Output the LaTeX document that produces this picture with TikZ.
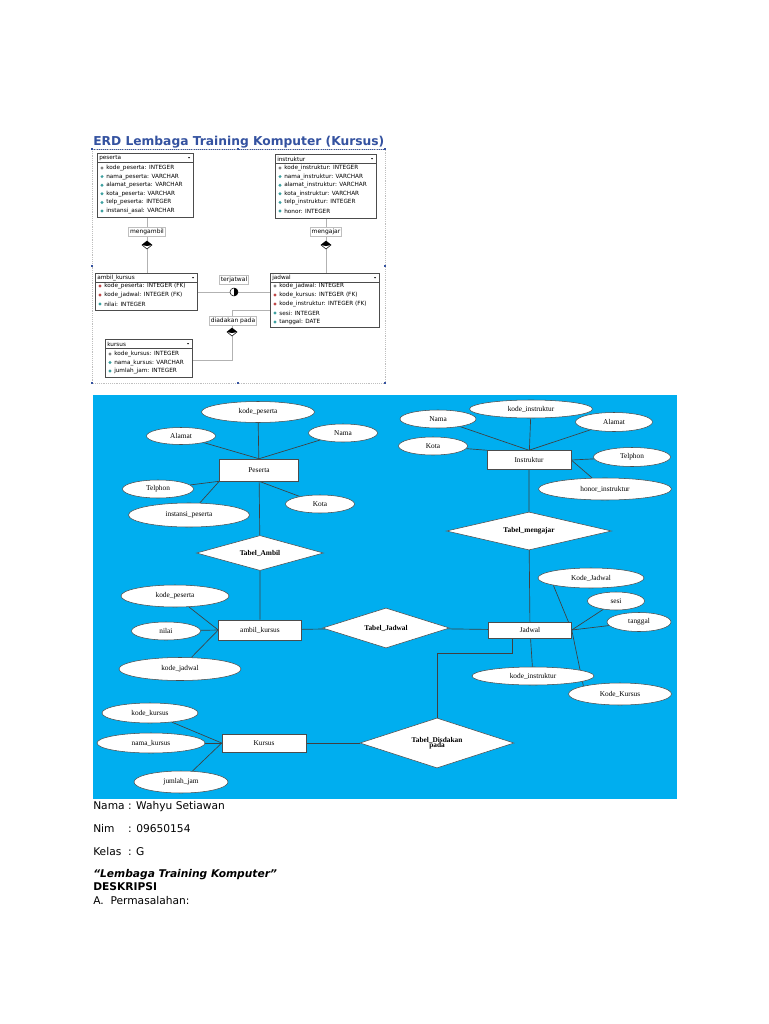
\documentclass[tikz,border=0pt]{standalone}
\usepackage{fontspec}
\setmainfont{DejaVu Sans}
\newfontfamily\erdf{Liberation Serif}
\usetikzlibrary{shapes.geometric}
\pgfdeclarelayer{bg}
\pgfsetlayers{bg,main}
\definecolor{sky}{RGB}{0,174,239}
\definecolor{ttl}{RGB}{52,82,160}
\definecolor{fkc}{RGB}{190,70,70}
\definecolor{atc}{RGB}{60,160,160}
\tikzset{
  sz/.style 2 args={minimum width={#1*0.75pt}, minimum height={#2*0.75pt}},
  attr/.style={ellipse, draw=black!70, fill=white, inner sep=0pt, font=\erdf\fontsize{5.5}{6}\selectfont},
  ent/.style={rectangle, draw=black!70, fill=white, inner sep=0pt, font=\erdf\fontsize{5.5}{6}\selectfont},
  rel/.style={diamond, draw=black!70, fill=white, inner sep=0pt, aspect=3, font=\erdf\bfseries\fontsize{5.5}{6}\selectfont, align=center},
  ln/.style={draw=black!75, line width=0.5pt},
  tbox/.style={rectangle, draw=gray!60!black, fill=white, inner sep=0pt, anchor=north west},
  rowt/.style={anchor=west, inner sep=0pt, font=\fontsize{4.3}{5}\selectfont},
  lbl/.style={rectangle, draw=gray!50, fill=white, inner sep=1pt, font=\fontsize{4.5}{5}\selectfont},
  txt/.style={anchor=base west, inner sep=0pt, font=\fontsize{8}{10}\selectfont},
  tline/.style={draw=gray!60, line width=0.6pt}
}
\newcommand\mytable[6]{%
  \node[tbox, minimum width={(#4-#2)*0.75pt}, minimum height={(#5-#3)*0.75pt}] (#1) at (#2,#3) {};
  \draw[gray!60!black, line width=0.3pt] (#2,#3+9) -- (#4,#3+9);
  \node[rowt] at (#2+2,#3+5) {#6};
  \fill[black] (#4-5,#3+4) -- (#4-3,#3+4) -- (#4-4,#3+5.5) -- cycle;
}
\newcommand\myrow[4]{%
  \fill[#3] (#1+5,#2) circle (1.6);
  \node[rowt] at (#1+9,#2) {#4};
}
\begin{document}
\begin{tikzpicture}[x=0.75pt,y=-0.75pt]
\useasboundingbox (0,0) rectangle (768,1024);
\begin{pgfonlayer}{bg}
\fill[white] (0,0) rectangle (768,1024);
\fill[sky] (93,395) rectangle (677,799);
\end{pgfonlayer}

% title
\node[anchor=base west, inner sep=0pt, text=ttl, font=\bfseries\fontsize{9.2}{11}\selectfont] (title) at (93,145) {\underline{ERD Lembaga Training Komputer (Kursus)}};

% top frame
\draw[gray!50, densely dotted] (92,149) rectangle (385,383);
\foreach \px/\py in {92/149,238/149,385/149,92/266,385/266,92/383,238/383,385/383}
  \fill[ttl] (\px-1,\py-1) rectangle (\px+1,\py+1);

% top connectors
\coordinate (pb) at (147,217);
\coordinate (at) at (147,273);
\draw[tline] (pb) -- (at);
\coordinate (ib) at (326,218);
\coordinate (jt) at (326,273);
\draw[tline] (ib) -- (jt);
\coordinate (ar) at (197,292);
\coordinate (jl) at (270,292);
\draw[tline] (ar) -- (jl);
\coordinate (jl2) at (270,310);
\coordinate (kr) at (192,360);
\draw[tline] (jl2) -- (232,310) -- (232,360) -- (kr);

% tables
\mytable{peseta}{97}{153}{193}{217}{peserta}
\myrow{97}{168}{gray}{kode\_peserta: INTEGER}
\myrow{97}{176.6}{atc}{nama\_peserta: VARCHAR}
\myrow{97}{185.2}{atc}{alamat\_peserta: VARCHAR}
\myrow{97}{193.8}{atc}{kota\_peserta: VARCHAR}
\myrow{97}{202.4}{atc}{telp\_peserta: INTEGER}
\myrow{97}{211}{atc}{instansi\_asal: VARCHAR}

\mytable{instruktur}{275}{154}{376}{218}{instruktur}
\myrow{275}{168}{gray}{kode\_instruktur: INTEGER}
\myrow{275}{176.6}{atc}{nama\_instruktur: VARCHAR}
\myrow{275}{185.2}{atc}{alamat\_instruktur: VARCHAR}
\myrow{275}{193.8}{atc}{kota\_instruktur: VARCHAR}
\myrow{275}{202.4}{atc}{telp\_instruktur: INTEGER}
\myrow{275}{211}{atc}{honor: INTEGER}

\mytable{ambilt}{95}{273}{197}{310}{ambil\_kursus}
\myrow{95}{286}{fkc}{kode\_peserta: INTEGER (FK)}
\myrow{95}{295}{fkc}{kode\_jadwal: INTEGER (FK)}
\myrow{95}{304}{atc}{nilai: INTEGER}

\mytable{jadwalt}{270}{273}{379}{327}{jadwal}
\myrow{270}{286}{gray}{kode\_jadwal: INTEGER}
\myrow{270}{295}{fkc}{kode\_kursus: INTEGER (FK)}
\myrow{270}{304}{fkc}{kode\_instruktur: INTEGER (FK)}
\myrow{270}{313}{atc}{sesi: INTEGER}
\myrow{270}{322}{atc}{tanggal: DATE}

\mytable{kursust}{105}{339}{192}{377}{kursus}
\myrow{105}{354}{gray}{kode\_kursus: INTEGER}
\myrow{105}{362.5}{atc}{nama\_kursus: VARCHAR}
\myrow{105}{371}{atc}{jumlah\_jam: INTEGER}

\node[lbl] (l1) at (147,232) {mengambil};
\node[lbl] (l2) at (326,232) {mengajar};
\node[lbl] (l3) at (234,280) {terjatwal};
\node[lbl] (l4) at (233,321) {diadakan pada};

\foreach \cx/\cy in {147/245,326/245,232/332}{
  \fill[white] (\cx-5,\cy) -- (\cx,\cy-4) -- (\cx+5,\cy) -- (\cx,\cy+4) -- cycle;
  \fill[black] (\cx-5,\cy) -- (\cx,\cy-4) -- (\cx+5,\cy) -- (\cx,\cy+1) -- cycle;
  \draw[black, line width=0.4pt] (\cx-5,\cy) -- (\cx,\cy-4) -- (\cx+5,\cy) -- (\cx,\cy+4) -- cycle;
}
\fill[white] (234,292) circle (4);
\begin{scope}
  \clip (234,286) rectangle (240,298);
  \fill[black] (234,292) circle (4);
\end{scope}
\draw[black, line width=0.4pt] (234,292) circle (4);

% entities
\node[ent, sz={79}{22}] (peserta) at (259,470) {Peserta};
\node[ent, sz={83}{20}] (ambil) at (260,630) {ambil\_kursus};
\node[ent, sz={83}{16}] (jadwal) at (530,630) {Jadwal};
\node[ent, sz={84}{19}] (instr) at (529,460) {Instruktur};
\node[ent, sz={84}{18}] (kursus) at (264,743) {Kursus};

% relations
\node[rel, sz={127}{35}] (tambil) at (260,553) {Tabel\_Ambil};
\node[rel, sz={127}{40}] (tjadwal) at (386,628) {Tabel\_Jadwal};
\node[rel, sz={165}{38}] (tmengajar) at (529,531) {Tabel\_mengajar};
\node[rel, sz={154}{50}] (tdp) at (437,743) {Tabel\_Disdakan\\[-2pt]pada};

% attributes
\node[attr, sz={113}{21}] (kp) at (258,412) {kode\_peserta};
\node[attr, sz={69}{17}] (alamat) at (181,436) {Alamat};
\node[attr, sz={69}{18}] (nama) at (343,433) {Nama};
\node[attr, sz={71}{18}] (telp) at (158,489) {Telphon};
\node[attr, sz={121}{24}] (inst) at (189,515) {instansi\_peserta};
\node[attr, sz={69}{18}] (kota) at (320,504) {Kota};

\node[attr, sz={123}{18}] (ki) at (531,409) {kode\_instruktur};
\node[attr, sz={76}{18}] (nama2) at (438,419) {Nama};
\node[attr, sz={77}{19}] (alamat2) at (614,422) {Alamat};
\node[attr, sz={69}{18}] (kota2) at (433,446) {Kota};
\node[attr, sz={77}{19}] (telp2) at (632,457) {Telphon};
\node[attr, sz={133}{22}] (honor) at (605,489) {honor\_instruktur};

\node[attr, sz={106}{20}] (kj) at (591,578) {Kode\_Jadwal};
\node[attr, sz={57}{18}] (sesi) at (616,601) {sesi};
\node[attr, sz={64}{19}] (tgl) at (639,622) {tanggal};
\node[attr, sz={122}{18}] (ki2) at (533,676) {kode\_instruktur};
\node[attr, sz={103}{22}] (kk) at (620,694) {Kode\_Kursus};

\node[attr, sz={108}{22}] (kp2) at (175,596) {kode\_peserta};
\node[attr, sz={69}{18}] (nilai) at (166,631) {nilai};
\node[attr, sz={122}{23}] (kjd) at (180,669) {kode\_jadwal};

\node[attr, sz={96}{20}] (kks) at (150,713) {kode\_kursus};
\node[attr, sz={108}{20}] (nks) at (151,743) {nama\_kursus};
\node[attr, sz={94}{22}] (jj) at (181,782) {jumlah\_jam};

% connectors (behind nodes)
\begin{pgfonlayer}{bg}
\draw[ln] (kp) -- (peserta);
\draw[ln] (alamat) -- (peserta.north);
\draw[ln] (nama) -- (peserta.north);
\draw[ln] (telp) -- (peserta.south west);
\draw[ln] (inst) -- (peserta.south west);
\draw[ln] (kota) -- (peserta.south);
\draw[ln] (peserta) -- (tambil) -- (ambil);
\draw[ln] (kp2) -- (ambil.west);
\draw[ln] (nilai) -- (ambil.west);
\draw[ln] (kjd) -- (ambil.west);
\draw[ln] (ambil) -- (tjadwal) -- (jadwal);

\draw[ln] (ki) -- (instr);
\draw[ln] (nama2) -- (instr.north);
\draw[ln] (kota2) -- (instr.north west);
\draw[ln] (alamat2) -- (instr.north);
\draw[ln] (telp2) -- (instr.east);
\draw[ln] (honor) -- (instr.east);
\draw[ln] (instr) -- (tmengajar) -- (jadwal);

\draw[ln] (kj.south west) -- (jadwal.east);
\draw[ln] (sesi) -- (jadwal.east);
\draw[ln] (tgl) -- (jadwal.east);
\draw[ln] (kk.north west) -- (jadwal.east);
\draw[ln] (jadwal) -- (ki2);
\coordinate (jb) at (512,638);
\draw[ln] (jb) -- (512,653) -| (tdp.north);
\draw[ln] (kursus) -- (tdp);
\draw[ln] (kks) -- (kursus.west);
\draw[ln] (nks) -- (kursus.west);
\draw[ln] (jj) -- (kursus.west);
\end{pgfonlayer}

% bottom text
\node[txt] (n1) at (93,809) {Nama : Wahyu Setiawan};
\node[txt] (n2) at (93,832) {Nim \ \ \ : 09650154};
\node[txt] (n3) at (93,855) {Kelas \ : G};
\node[txt, font=\bfseries\itshape\fontsize{8}{10}\selectfont] (n4) at (93,877) {“Lembaga Training Komputer”};
\node[txt, font=\bfseries\fontsize{8}{10}\selectfont] (n5) at (93,890) {DESKRIPSI};
\node[txt] (n6) at (93,904) {A.\ \ Permasalahan:};
\end{tikzpicture}
\end{document}
